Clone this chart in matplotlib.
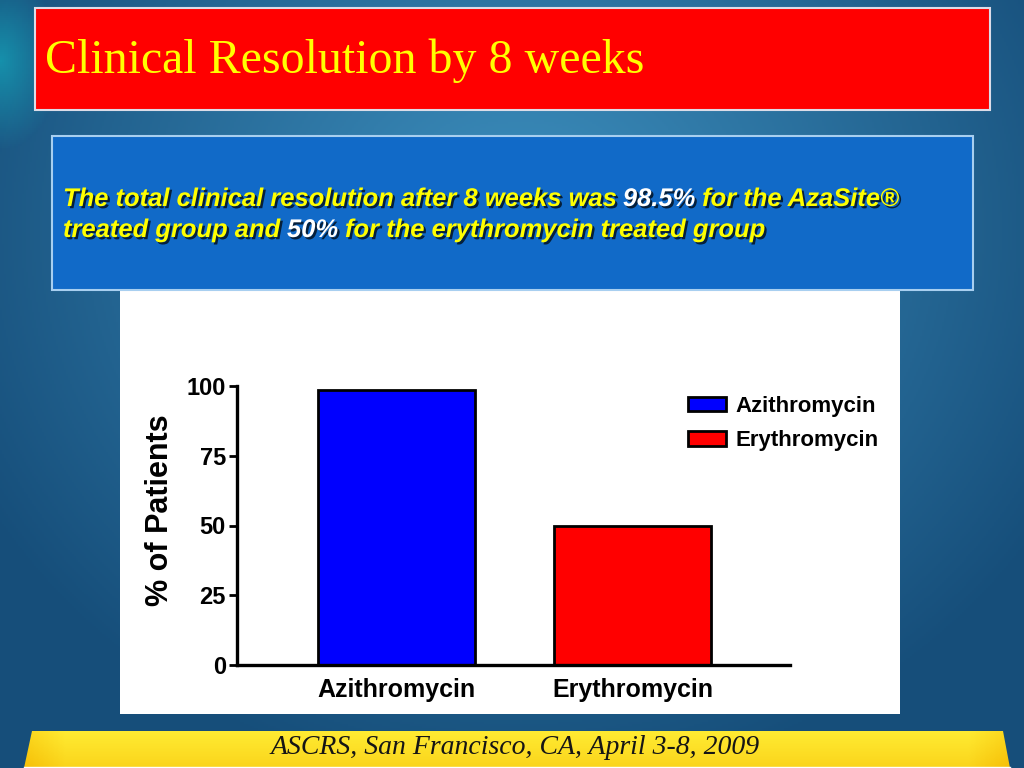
import numpy as np
import matplotlib
matplotlib.use("Agg")
import matplotlib.pyplot as plt
import matplotlib.patheffects as pe
from matplotlib.patches import Rectangle, Polygon

# ------------------------------------------------------------
# Data
# ------------------------------------------------------------
groups = ["Azithromycin", "Erythromycin"]
resolution_pct = [98.5, 50.0]
bar_colors = ["#0000ff", "#ff0000"]
y_ticks = [0, 25, 50, 75, 100]

title = "Clinical Resolution by 8 weeks"
summary_lines = [
    [("The total clinical resolution after 8 weeks was ", "#ffff00"),
     ("98.5%", "white"),
     (" for the AzaSite®", "#ffff00")],
    [("treated group and ", "#ffff00"),
     ("50%", "white"),
     (" for the erythromycin treated group", "#ffff00")],
]
footer = "ASCRS, San Francisco, CA, April 3-8, 2009"

W, H = 1024, 768
fig = plt.figure(figsize=(W / 100, H / 100), dpi=100)

# ------------------------------------------------------------
# Slide background (pixel coordinates, y pointing down)
# ------------------------------------------------------------
bg = fig.add_axes([0, 0, 1, 1])
bg.set_xlim(0, W)
bg.set_ylim(H, 0)
bg.axis("off")

yy, xx = np.mgrid[0:H:2, 0:W:2]
d = np.sqrt(((xx - 520) / 620) ** 2 + ((yy - 230) / 560) ** 2)
t = np.clip(d, 0, 1)[..., None]
c_in = np.array([62, 145, 192]) / 255
c_out = np.array([22, 78, 122]) / 255
grad = c_in * (1 - t) + c_out * t
bg.imshow(grad, extent=[0, W, H, 0], aspect="auto", zorder=0)

# soft teal glow in the top-left corner
dc = np.sqrt(((xx - 0) / 60) ** 2 + ((yy - 60) / 90) ** 2)
glow = np.zeros(xx.shape + (4,))
glow[..., :3] = np.array([20, 170, 190]) / 255
glow[..., 3] = np.clip(1 - dc, 0, 1) * 0.7
bg.imshow(glow, extent=[0, W, H, 0], aspect="auto", zorder=1)

# red title box
bg.add_patch(Rectangle((35, 8), 955, 102, facecolor="#ff0000",
                       edgecolor="#dcdce8", lw=1.5, zorder=2))
bg.text(45, 61, title, fontsize=34.5, color="#ffff00",
        family="Liberation Serif", va="center", ha="left", zorder=3)

# white panel behind the chart
bg.add_patch(Rectangle((120, 290), 780, 424, facecolor="white",
                       edgecolor="none", zorder=2))

# blue summary box
bg.add_patch(Rectangle((52, 136), 921, 154, facecolor="#116ac8",
                       edgecolor="#a8cff0", lw=1.5, zorder=3))

shadow = [pe.SimplePatchShadow(offset=(1.6, -1.6), shadow_rgbFace="black",
                               alpha=0.7), pe.Normal()]
fig.canvas.draw()
renderer = fig.canvas.get_renderer()
for row, line in enumerate(summary_lines):
    x = 63
    y = 199 + row * 31
    for txt, col in line:
        tx = bg.text(x, y, txt, fontsize=18.4, color=col, weight="bold",
                     style="italic", family="Liberation Sans",
                     va="center", ha="left", zorder=4, path_effects=shadow)
        bb = tx.get_window_extent(renderer)
        x = bg.transData.inverted().transform((bb.x1, bb.y0))[0]

# yellow footer band
foot_poly = Polygon([[32, 731], [1003, 731], [1010, 768], [24, 768]],
                    closed=True, facecolor="none", edgecolor="none")
bg.add_patch(foot_poly)
fy = np.linspace(0, 1, 40)[:, None]
fx = np.linspace(0, 1, 200)[None, :]
edge = np.clip(1 - np.minimum(fx, 1 - fx) * 25, 0, 1)
shade = np.clip(0.45 * fy + 0.4 * edge, 0, 1)[..., None]
top_c = np.array([255, 235, 50]) / 255
bot_c = np.array([245, 185, 0]) / 255
foot_img = top_c * (1 - shade) + bot_c * shade
im = bg.imshow(foot_img, extent=[24, 1010, 768, 731], aspect="auto", zorder=2)
im.set_clip_path(foot_poly)
bg.plot([24, 1010], [766.5, 766.5], color="white", lw=1, zorder=3)
bg.text(515, 748, footer, fontsize=20, style="italic", color="#151515",
        family="Liberation Serif", ha="center", va="center", zorder=4)

# ------------------------------------------------------------
# Bar chart
# ------------------------------------------------------------
ax = fig.add_axes([237 / W, 1 - 665 / H, 553 / W, 279 / H])
ax.patch.set_alpha(0)
pos = np.arange(len(groups))
bars = ax.bar(pos, resolution_pct, width=0.664, color=bar_colors,
              edgecolor="black", linewidth=2, label=groups)

ax.set_xlim(-0.674, 1.664)
ax.set_ylim(0, 100)
ax.set_yticks(y_ticks)
ax.set_xticks(pos)
ax.set_xticklabels(groups)
for s in ["top", "right"]:
    ax.spines[s].set_visible(False)
for s in ["left", "bottom"]:
    ax.spines[s].set_linewidth(2.4)
ax.tick_params(axis="y", length=6, width=2, pad=2, labelsize=17)
ax.tick_params(axis="x", length=0, pad=9, labelsize=18)
for lab in ax.get_xticklabels() + ax.get_yticklabels():
    lab.set_fontweight("bold")
    lab.set_family("Liberation Sans")

ax.set_ylabel("% of Patients", fontsize=22, weight="bold",
              family="Liberation Sans")
ax.yaxis.set_label_coords(-0.112, 0.556)

ax.legend(handles=list(bars), labels=groups, loc="upper left",
          bbox_to_anchor=(688 / W, 1 - 396 / H), bbox_transform=fig.transFigure,
          frameon=False, borderpad=0, borderaxespad=0,
          handlelength=1.7, handleheight=0.6, handletextpad=0.45,
          labelspacing=0.6, prop={"family": "Liberation Sans",
                                  "weight": "bold", "size": 16})

fig.savefig("out.png", dpi=100)
